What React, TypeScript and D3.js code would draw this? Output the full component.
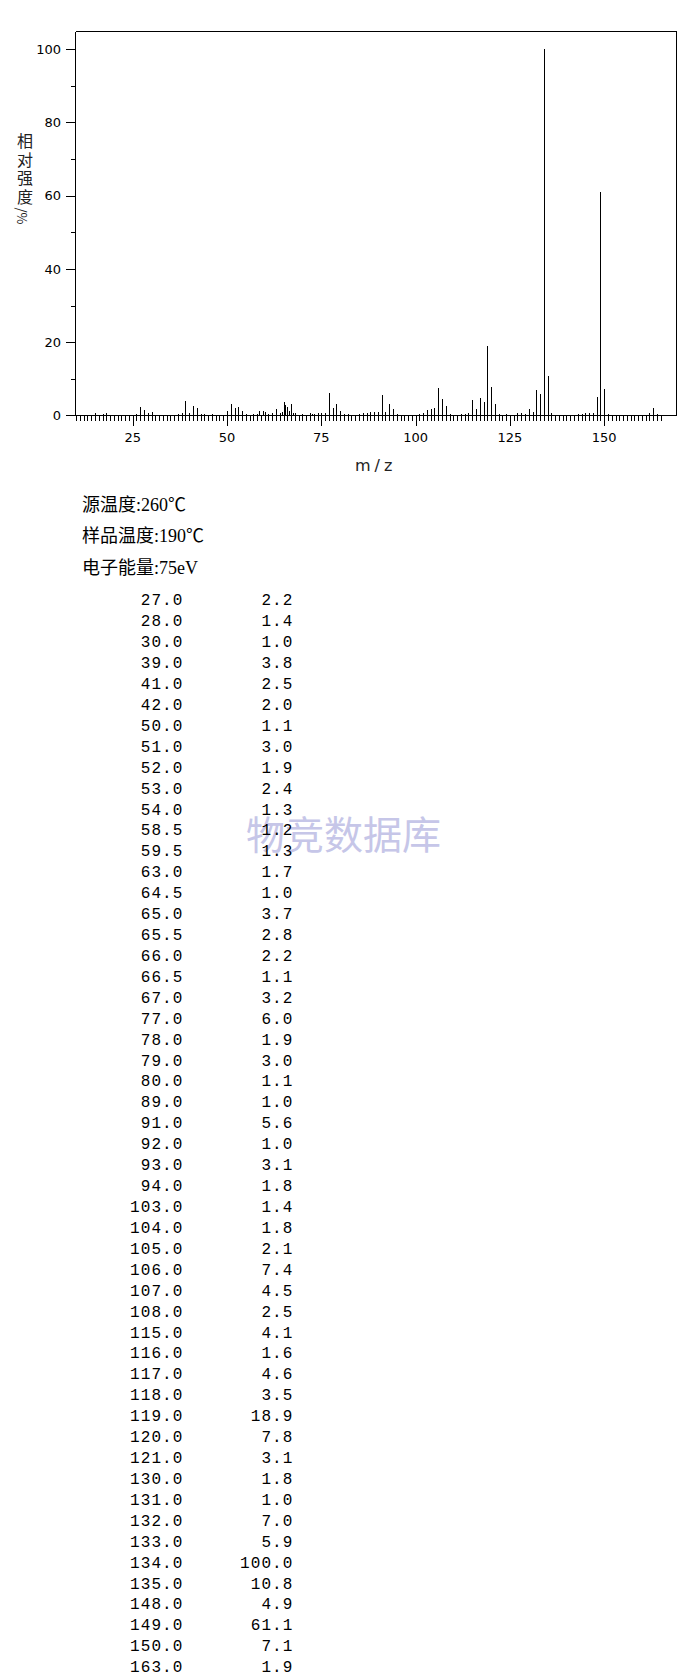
import React from "react";
import * as d3 from "d3";

// Peaks listed in the table (m/z, relative intensity %)
const peakMz = [27, 28, 30, 39, 41, 42, 50, 51, 52, 53, 54, 58.5, 59.5, 63, 64.5, 65, 65.5, 66, 66.5, 67, 77, 78, 79, 80, 89, 91, 92, 93, 94, 103, 104, 105, 106, 107, 108, 115, 116, 117, 118, 119, 120, 121, 130, 131, 132, 133, 134, 135, 148, 149, 150, 163];
const peakIntensity = [2.2, 1.4, 1.0, 3.8, 2.5, 2.0, 1.1, 3.0, 1.9, 2.4, 1.3, 1.2, 1.3, 1.7, 1.0, 3.7, 2.8, 2.2, 1.1, 3.2, 6.0, 1.9, 3.0, 1.1, 1.0, 5.6, 1.0, 3.1, 1.8, 1.4, 1.8, 2.1, 7.4, 4.5, 2.5, 4.1, 1.6, 4.6, 3.5, 18.9, 7.8, 3.1, 1.8, 1.0, 7.0, 5.9, 100.0, 10.8, 4.9, 61.1, 7.1, 1.9];

// Small peaks (< 1 %) visible in the plot only
const minorMz = [15, 17, 18, 26, 29, 37, 38, 40, 43, 44, 46, 55, 57, 58, 60, 61, 62, 64, 67.5, 68, 70, 72, 72.5, 73, 74, 75, 76, 81, 82, 85, 86, 87, 88, 90, 95, 101, 102, 109, 112, 113, 114, 122, 124, 127, 128, 129, 136, 143, 144, 145, 146, 147, 151, 162, 164];
const minorIntensity = [0.6, 0.45, 0.7, 0.4, 0.6, 0.35, 0.6, 0.6, 0.45, 0.3, 0.4, 0.3, 0.4, 0.4, 0.8, 0.3, 0.7, 0.5, 0.6, 0.5, 0.3, 0.5, 0.4, 0.4, 0.5, 0.5, 0.5, 0.4, 0.3, 0.4, 0.5, 0.5, 0.8, 0.9, 0.3, 0.4, 0.6, 0.3, 0.4, 0.4, 0.6, 0.3, 0.3, 0.5, 0.6, 0.4, 0.5, 0.3, 0.3, 0.5, 0.6, 0.6, 0.4, 0.5, 0.4];

const yTickLabels = [0, 20, 40, 60, 80, 100];
const xTickLabels = [25, 50, 75, 100, 125, 150];
const infoLines = ["源温度:260℃", "样品温度:190℃", "电子能量:75eV"];
const yAxisTitle = ["相", "对", "强", "度"];
const yAxisUnit = "/%";
const xAxisTitle = "m/z";
const watermark = "物竞数据库";

const W = 687;
const H = 1673;

export default function App() {
  const x = d3.scaleLinear().domain([10, 165]).range([76.1, 660.8]);
  const y = d3.scaleLinear().domain([0, 100]).range([415.3, 49.3]);
  const px = (v: number) => Math.round(v) + 0.5;

  const frameL = 75.5, frameT = 31.5, frameR = 676.5, frameB = px(y(0));
  const yMinor = d3.range(0, 101, 10);
  const xMinor = d3.range(10, 166, 1);

  const tableTop = 605.3;
  const rowH = 20.92;

  const cjkSans = "'Noto Sans CJK SC', 'Noto Sans', sans-serif";

  return (
    <div style={{ position: "absolute", left: 0, top: 0 }}>
      <svg width={W} height={H} style={{ display: "block", background: "#fff" }}>
        {/* frame */}
        <g stroke="#000" strokeWidth={1} fill="none" shapeRendering="crispEdges">
          <line x1={frameL} y1={frameT} x2={frameR} y2={frameT} />
          <line x1={frameR} y1={frameT} x2={frameR} y2={frameB} />
          <line x1={frameL} y1={frameT} x2={frameL} y2={frameB} />
          <line x1={frameL} y1={frameB} x2={frameR} y2={frameB} />
          {yMinor.map((v) => (
            <line key={"yt" + v} x1={v % 20 === 0 ? 65.5 : 70.5} x2={frameL} y1={px(y(v))} y2={px(y(v))} />
          ))}
          {xMinor.map((v) => (
            <line key={"xt" + v} x1={px(x(v))} x2={px(x(v))} y1={frameB} y2={frameB + (v % 25 === 0 ? 10 : 5.5)} />
          ))}
        </g>
        {/* peaks */}
        <g stroke="#000" strokeWidth={1} shapeRendering="crispEdges">
          {minorMz.map((m, i) => (
            <line key={"mp" + i} x1={px(x(m))} x2={px(x(m))} y1={frameB} y2={y(minorIntensity[i])} />
          ))}
          {peakMz.map((m, i) => (
            <line key={"p" + i} x1={px(x(m))} x2={px(x(m))} y1={frameB} y2={y(peakIntensity[i])} />
          ))}
        </g>
        {/* axis labels */}
        <g fontFamily="'DejaVu Sans', Verdana, sans-serif" fontSize={13} fill="#000">
          {yTickLabels.map((v) => (
            <text key={"yl" + v} x={61} y={y(v) + 4.6} textAnchor="end">{v}</text>
          ))}
          {xTickLabels.map((v) => (
            <text key={"xl" + v} x={x(v)} y={442} textAnchor="middle">{v}</text>
          ))}
        </g>
        <text x={355} y={471} fontFamily="'DejaVu Sans', sans-serif" fontSize={16} letterSpacing={4} fill="#222">{xAxisTitle}</text>
        <g fontFamily={cjkSans} fontSize={16} fill="#222" textAnchor="middle">
          {yAxisTitle.map((c, i) => (
            <text key={"yc" + i} x={25} y={147 + i * 18.5}>{c}</text>
          ))}
          <text x={0} y={0} fontSize={13} transform={`translate(21,216) rotate(90)`} textAnchor="middle" dominantBaseline="middle">{yAxisUnit}</text>
        </g>
        {/* info */}
        <g fontFamily={"'Liberation Serif', " + cjkSans} fontSize={18} fill="#000">
          {infoLines.map((t, i) => (
            <text key={"info" + i} x={82} y={510.7 + i * 31.6}>{t}</text>
          ))}
        </g>
        {/* watermark */}
        <text x={246} y={849} fontFamily={cjkSans} fontSize={39} fill="#c6c6e8">{watermark}</text>
        {/* table */}
        <g fontFamily="'Liberation Mono', 'Courier New', monospace" fontSize={16} fill="#000" letterSpacing={1.1}>
          {peakMz.map((m, i) => (
            <g key={"row" + i}>
              <text x={183.5} y={tableTop + i * rowH} textAnchor="end">{m.toFixed(1)}</text>
              <text x={293.5} y={tableTop + i * rowH} textAnchor="end">{peakIntensity[i].toFixed(1)}</text>
            </g>
          ))}
        </g>
      </svg>
    </div>
  );
}
